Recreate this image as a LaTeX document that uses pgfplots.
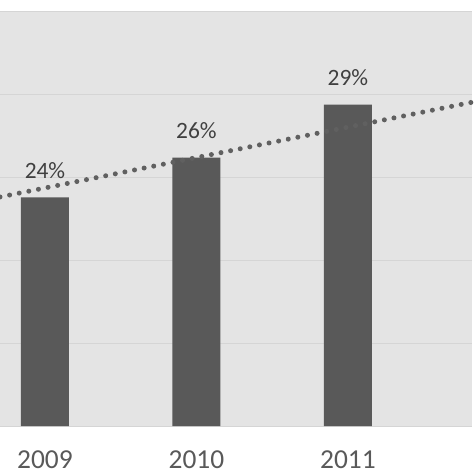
\documentclass[border=0pt]{standalone}
\usepackage{fontspec}
\setmainfont{Carlito}
\usepackage{pgfplots}
\pgfplotsset{compat=1.18}
\definecolor{bg}{HTML}{E4E4E4}
\definecolor{gridc}{HTML}{D5D5D5}
\definecolor{barc}{HTML}{595959}
\definecolor{trendc}{HTML}{606060}
\definecolor{labc}{HTML}{404040}
\begin{document}
\begin{tikzpicture}
\path[use as bounding box] (0,0) rectangle (474bp,474bp);
\begin{axis}[
    at={(0,48bp)}, anchor=south west,
    scale only axis,
    width=472bp, height=414bp,
    xmin=-0.297, xmax=2.819,
    ymin=10, ymax=35,
    ytick={10,15,20,25,30,35},
    yticklabels={},
    xtick={0,1,2},
    xticklabels={2009,2010,2011},
    major tick length=0pt,
    axis background/.style={fill=bg},
    axis line style={draw=none},
    ymajorgrids=true,
    major grid style={gridc, line width=1bp},
    xticklabel style={font=\fontsize{27.5}{30}\selectfont, text=barc, inner sep=0pt, anchor=north, yshift=-25bp},
    /pgf/number format/assume math mode=true,
    clip=false,
]
\addplot[ybar, bar width=48bp, fill=barc, draw=none,
    point meta=explicit symbolic,
    nodes near coords,
    every node near coord/.style={font=\fontsize{23.5}{26}\selectfont, text=labc, inner sep=0pt, anchor=south, yshift=19bp}]
    coordinates {(0,23.8)[24\%] (1,26.2)[26\%] (2,29.4)[29\%]};
\addplot[trendc, line width=5bp, line cap=round, dash pattern=on 0pt off 9.8bp]
    coordinates {(-0.297,23.83) (2.819,29.55)};
\end{axis}
\end{tikzpicture}
\end{document}
